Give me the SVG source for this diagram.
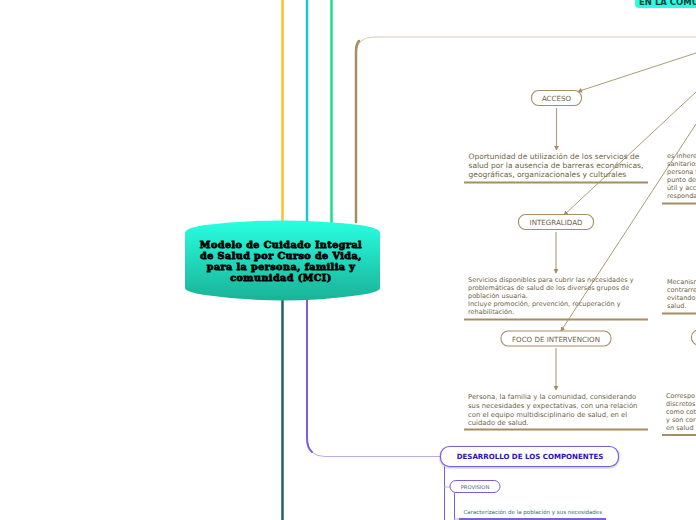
<svg xmlns="http://www.w3.org/2000/svg" width="696" height="520" viewBox="0 0 696 520">
<style>
.c{fill:none;stroke-linecap:round}
.b{fill:#fff;stroke:#a58e64;stroke-width:1.1}
.l{font-family:"DejaVu Sans",sans-serif;font-size:7.1px;fill:#6e5f45}
.t{font-family:"DejaVu Sans",sans-serif;font-size:7.5px;fill:#6e5f45}
.s{font-family:"DejaVu Sans",sans-serif;font-size:6.5px;fill:#6e5f45}
.f{font-family:"DejaVu Sans",sans-serif;font-size:6.85px;fill:#6e5f45}
.u{stroke:#a58e64;stroke-width:2;fill:none}
.a{stroke:#a58e64;stroke-width:.9;fill:none}
.v{stroke:#b5a280;stroke-width:1.2;fill:none}
</style>
<defs>
<linearGradient id="g" x1="0" y1="0" x2="0" y2="1"><stop offset="0" stop-color="#28ffe2"/><stop offset="1" stop-color="#1ab296"/></linearGradient>
<filter id="sh" x="-5%" y="-20%" width="110%" height="150%"><feDropShadow dx="0" dy="1" stdDeviation="1" flood-color="#000" flood-opacity=".3"/></filter>
<marker id="m" markerWidth="6" markerHeight="5" refX="4" refY="2.500" orient="auto" markerUnits="userSpaceOnUse"><path d="M0 0L4.500 2.500L0 5Z" fill="#a58e64"/></marker>
</defs>
<g id="connectors">
<path class="c" d="M282.500 0V222" stroke="#ffbe26" stroke-width="2.500"/>
<path class="c" d="M307 0V222" stroke="#1ec5c9" stroke-width="2.500"/>
<path class="c" d="M331.500 0V222" stroke="#1fdc8b" stroke-width="2.500"/>
<path class="c" d="M356 222V55Q356 37 374 37H696" stroke="#d9ccb2" stroke-width="1"/>
<path class="c" d="M356 222V52Q356 44 359 41" stroke="#a58e64" stroke-width="2.500"/>
<path class="c" d="M282.500 300V520" stroke="#1d6459" stroke-width="2.500"/>
<path class="c" d="M307 300V438Q307 456.500 325 456.500H441" stroke="#b9aaee" stroke-width="1"/>
<path class="c" d="M307 300V438Q307 448 312 452" stroke="#7a5fd8" stroke-width="2"/>
<path class="a" d="M696 53L578 91.500" marker-end="url(#m)"/>
<path class="a" d="M696 92L564 215" marker-end="url(#m)"/>
<path class="a" d="M696 124L561 331" marker-end="url(#m)"/>
<path class="v" d="M556.500 108V150" marker-end="url(#m)"/>
<path class="v" d="M556 232V273" marker-end="url(#m)"/>
<path class="v" d="M556 348V390" marker-end="url(#m)"/>
<path class="c" d="M444.500 467V520" stroke="#7a5fd8" stroke-width="1"/>
<path class="c" d="M444.500 487H450" stroke="#b9aaee" stroke-width="1"/>
<path class="c" d="M454.500 493V520" stroke="#7a5fd8" stroke-width="1"/>
<path class="c" d="M454.500 519H459" stroke="#b9aaee" stroke-width="1"/>
</g>
<g id="root">
<path d="M185 233Q185 228 205 225Q282 216 360 225Q380 228 380 233V288Q380 292 360 295Q282 306 205 295Q185 292 185 288Z" fill="url(#g)"/>
<g font-family="'DejaVu Serif',serif" font-size="9.600" font-weight="700" letter-spacing=".45" fill="#000" stroke="#000" stroke-width=".8" text-anchor="middle">
<text x="281" y="248">Modelo de Cuidado Integral</text>
<text x="281" y="259">de Salud por Curso de Vida,</text>
<text x="281" y="270">para la persona, familia y</text>
<text x="281" y="281">comunidad (MCI)</text>
</g>
</g>
<g id="top-tag">
<path d="M635 0H696V8H639Q635 8 635 4Z" fill="#28ffe2"/>
<text x="639" y="4.500" font-family="'DejaVu Sans',sans-serif" font-size="8.500" font-weight="700" fill="#0d3f38">EN LA COMU</text>
</g>
<g id="acceso">
<rect class="b" x="531.500" y="90.500" width="50" height="15" rx="7"/>
<text class="l" x="556.500" y="101" text-anchor="middle">ACCESO</text>
</g>
<g id="acceso-text">
<text class="t" x="468.500" y="159">Oportunidad de utilización de los servicios de</text>
<text class="t" x="468.500" y="168">salud por la ausencia de barreras económicas,</text>
<text class="t" x="468.500" y="177">geográficas, organizacionales y culturales</text>
<path class="u" d="M464 182.500H648"/>
</g>
<g id="integralidad">
<rect class="b" x="518.500" y="214.500" width="75" height="15" rx="7"/>
<text class="l" x="556" y="225" text-anchor="middle">INTEGRALIDAD</text>
</g>
<g id="integralidad-text">
<text class="s" x="468" y="282">Servicios disponibles para cubrir las necesidades y</text>
<text class="s" x="468" y="290">problemáticas de salud de los diversos grupos de</text>
<text class="s" x="468" y="298">población usuaria.</text>
<text class="s" x="468" y="306">Incluye promoción, prevención, recuperación y</text>
<text class="s" x="468" y="314">rehabilitación.</text>
<path class="u" d="M464 319.500H648"/>
</g>
<g id="foco">
<rect class="b" x="501" y="331" width="110" height="15" rx="7"/>
<text class="l" x="556" y="341.500" text-anchor="middle">FOCO DE INTERVENCION</text>
</g>
<g id="foco-text">
<text class="f" x="468" y="399">Persona, la familia y la comunidad, considerando</text>
<text class="f" x="468" y="407.500">sus necesidades y expectativas, con una relación</text>
<text class="f" x="468" y="416.500">con el equipo multidisciplinario de salud, en el</text>
<text class="f" x="468" y="424.500">cuidado de salud.</text>
<path class="u" d="M464 429.500H648"/>
</g>
<g id="right-1">
<text class="s" x="667" y="158">es inhere</text>
<text class="s" x="667" y="166">sanitarios</text>
<text class="s" x="667" y="174">persona f</text>
<text class="s" x="667" y="182">punto de</text>
<text class="s" x="667" y="190">útil y acc</text>
<text class="s" x="667" y="198">responda</text>
<path class="u" d="M662 203.500H696"/>
</g>
<g id="right-2">
<text class="s" x="667" y="284">Mecanisr</text>
<text class="s" x="667" y="292">contrarre</text>
<text class="s" x="667" y="300">evitando</text>
<text class="s" x="667" y="308">salud.</text>
<path class="u" d="M662 313.500H696"/>
</g>
<g id="right-node"><rect class="b" x="691.500" y="330" width="30" height="15" rx="7"/></g>
<g id="right-3">
<text class="s" x="666" y="397.500">Correspo</text>
<text class="s" x="666" y="405.500">discretos</text>
<text class="s" x="666" y="413.500">como cot</text>
<text class="s" x="666" y="421.500">y son cor</text>
<text class="s" x="666" y="429.500">en salud</text>
<path class="u" d="M662 435H696"/>
</g>
<g id="desarrollo">
<rect x="440.500" y="446.500" width="178" height="20" rx="9" fill="#fff" stroke="#7a5fd8" stroke-width="1.200" filter="url(#sh)"/>
<text x="530" y="459" text-anchor="middle" font-family="'DejaVu Sans',sans-serif" font-size="7.050" font-weight="700" fill="#2a10c0">DESARROLLO DE LOS COMPONENTES</text>
</g>
<g id="provision">
<rect x="450" y="480.500" width="50" height="12" rx="6" fill="#fff" stroke="#7a5fd8" stroke-width="1"/>
<text x="475" y="489" text-anchor="middle" font-family="'DejaVu Sans',sans-serif" font-size="5.200" fill="#2f6b80">PROVISION</text>
</g>
<g id="caracterizacion">
<text x="463.500" y="514" font-family="'DejaVu Sans',sans-serif" font-size="5.500" fill="#2f6b80">Caracterización de la población y sus necesidades</text>
<path d="M459 519H606" stroke="#7a5fd8" stroke-width="2" fill="none"/>
</g>
</svg>
